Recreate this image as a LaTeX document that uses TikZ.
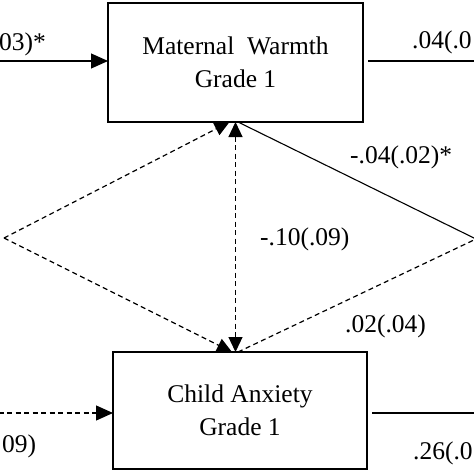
\documentclass[tikz,border=0pt]{standalone}
\usepackage{fontspec}
\setmainfont{Liberation Serif}
\usetikzlibrary{arrows.meta,calc}
\tikzset{
  boxnode/.style={draw, line width=1.8pt, minimum width=#1, inner sep=0pt, outer sep=0pt, align=center, font=\fontsize{25.5}{33}\selectfont},
  lbl/.style={inner sep=0pt, anchor=base west, font=\fontsize{25.5}{30}\selectfont},
  conn/.style={line width=1.1pt, -{Triangle[length=17pt,width=15pt]}},
  plainconn/.style={line width=1.1pt},
  dashconn/.style={line width=1.2pt, dash pattern=on 5pt off 3.5pt},
  dtip/.style={-{Triangle[length=15pt,width=14pt]}},
  dtips/.style={{Triangle[length=15pt,width=14pt]}-{Triangle[length=15pt,width=14pt]}}
}
\begin{document}
\begin{tikzpicture}[x=1pt,y=-1pt]
\useasboundingbox (0,0) rectangle (474,474);
\clip (0,0) rectangle (474,474);
\node[boxnode=255pt, minimum height=119pt] (top) at (235.5,62.5) {Maternal\ \ Warmth\\Grade 1};
\node[boxnode=254pt, minimum height=117pt] (bot) at (240,410.5) {Child Anxiety\\Grade 1};
\coordinate (L) at (4,238);
\coordinate (R) at (476,239);
\coordinate (tl) at (-10,61);
\coordinate (tr) at (480,61);
\coordinate (bl) at (-10,413);
\coordinate (br) at (480,413);
\coordinate (tin) at ($(top.south)+(-6,0)$);
\coordinate (bin) at ($(bot.north)+(-8,0)$);
\coordinate (tout) at ($(top.south)+(2.5,0)$);
\coordinate (bout) at ($(bot.north)+(-2,0)$);
% horizontal connectors
\draw[conn] (tl) -- (tl -| top.west);
\draw[plainconn] ($(top.east)+(5,-1.5)$) -- (tr);
\draw[conn, dashconn] (bl) -- (bl -| bot.west);
\draw[plainconn] ($(bot.east)+(5,2.5)$) -- (br);
% diamond
\draw[dashconn, dtip] (L) -- (tin);
\draw[dashconn, dtip] (L) -- (bin);
\draw[dashconn, dtips] (top.south) -- (top.south |- bot.north);
\draw[plainconn] (tout) -- (R);
\draw[dashconn] (bout) -- (R);
% labels
\node[lbl] (l1) at (-1,50) {03)*};
\node[lbl] (l2) at (412,48) {.04(.0};
\node[lbl] (l3) at (350,163) {-.04(.02)*};
\node[lbl] (l4) at (260,245) {-.10(.09)};
\node[lbl] (l5) at (345,332) {.02(.04)};
\node[lbl] (l6) at (2,452) {09)};
\node[lbl] (l7) at (413,459) {.26(.0};
\end{tikzpicture}
\end{document}
